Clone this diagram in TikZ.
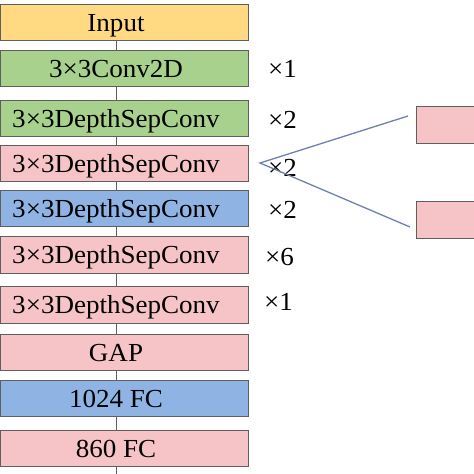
\documentclass[tikz,border=0pt]{standalone}
\usepackage{fontspec}
\setmainfont{Liberation Serif}[FakeStretch=1.04]
\definecolor{cinput}{RGB}{255,218,130}
\definecolor{cgreen}{RGB}{169,209,142}
\definecolor{cpink}{RGB}{246,196,198}
\definecolor{cblue}{RGB}{143,180,228}
\definecolor{cborder}{RGB}{95,95,95}
\definecolor{cfan}{RGB}{110,130,172}
\tikzset{
  blk/.style={draw=cborder, line width=1.1pt, minimum width=248pt, minimum height=36.5pt,
    inner sep=0pt, anchor=center, font=\fontsize{26}{26}\selectfont,
    text height=17.5pt, text depth=0pt,
    execute at begin node={\hspace*{-17pt}}},
  sidebox/.style={draw=cborder, line width=1.1pt, fill=cpink, minimum width=120pt,
    minimum height=37pt, inner sep=0pt, anchor=north west},
  mult/.style={anchor=west, inner sep=0pt, font=\fontsize{26}{26}\selectfont},
  conn/.style={draw=cborder, line width=1pt},
  fan/.style={draw=cfan, line width=1.3pt}
}
\begin{document}
\begin{tikzpicture}[x=1pt,y=-1pt]
\useasboundingbox (0,0) rectangle (474,474);
\fill[white] (0,0) rectangle (474,474);
\node[blk, fill=cinput] (b0) at (124.5,22.5) {Input};
\node[blk, fill=cgreen] (b1) at (124.5,68.5) {3×3Conv2D};
\node[blk, fill=cgreen] (b2) at (124.5,118.5) {3×3DepthSepConv};
\node[blk, fill=cpink] (b3) at (124.5,163.5) {3×3DepthSepConv};
\node[blk, fill=cblue] (b4) at (124.5,208.5) {3×3DepthSepConv};
\node[blk, fill=cpink] (b5) at (124.5,255) {3×3DepthSepConv};
\node[blk, fill=cpink] (b6) at (124.5,305) {3×3DepthSepConv};
\node[blk, fill=cpink] (b7) at (124.5,352.5) {GAP};
\node[blk, fill=cblue] (b8) at (124.5,398.5) {1024 FC};
\node[blk, fill=cpink] (b9) at (124.5,448.5) {860 FC};
\coordinate (end) at (116.5,474);
\foreach \a/\b in {b0/b1,b1/b2,b2/b3,b3/b4,b4/b5,b5/b6,b6/b7,b7/b8,b8/b9}
  \draw[conn] (\a.south -| 116.5,0) -- (\b.north -| 116.5,0);
\draw[conn] (b9.south -| 116.5,0) -- (end);
\node[mult] (m1) at (268,69) {×1};
\node[mult] (m2) at (268,120) {×2};
\node[mult] (m3) at (268,168) {×2};
\node[mult] (m4) at (268,210) {×2};
\node[mult] (m5) at (265,257) {×6};
\node[mult] (m6) at (264,302) {×1};
\node[sidebox] (s1) at (416,106) {};
\node[sidebox] (s2) at (416,201) {};
\coordinate (apex) at (260,163);
\coordinate (f1) at (408,116);
\coordinate (f2) at (410,227);
\draw[fan] (f1) -- (apex) -- (f2);
\end{tikzpicture}
\end{document}
